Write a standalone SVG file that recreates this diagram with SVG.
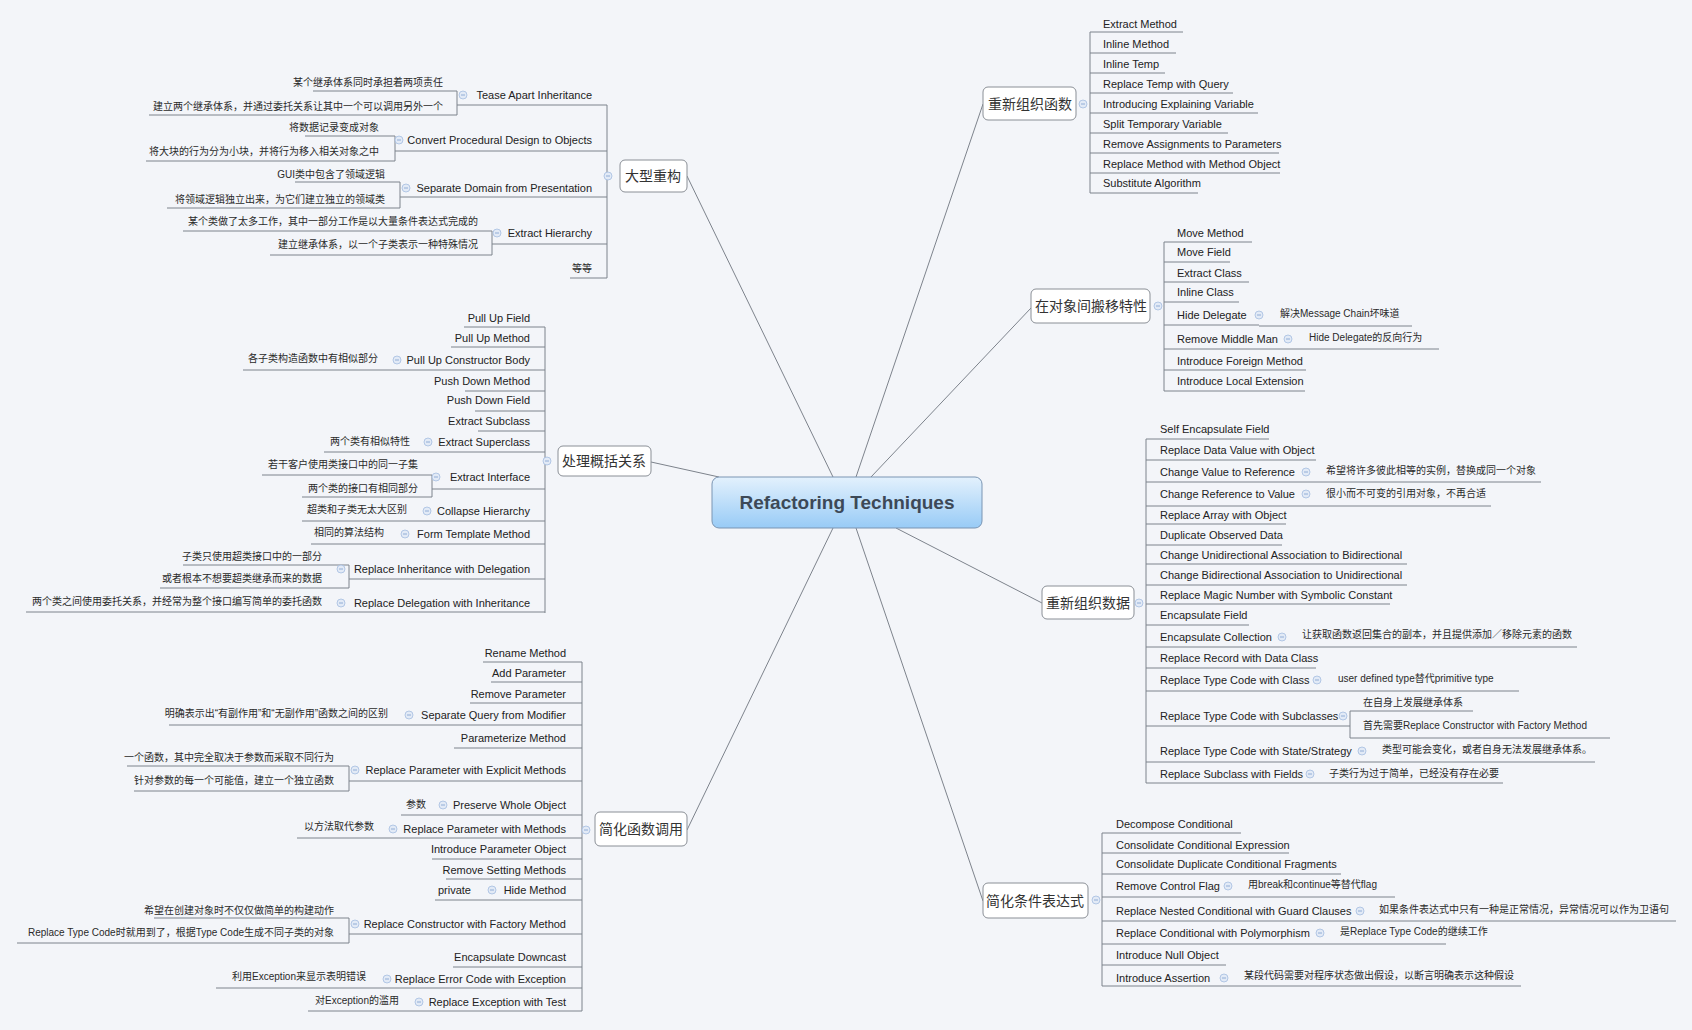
<svg xmlns="http://www.w3.org/2000/svg" width="1692" height="1030" viewBox="0 0 1692 1030">
<style>
text{font-family:"Liberation Sans","Noto Sans CJK SC",sans-serif;fill:#222;font-size:11px}
.e{text-anchor:end}
.s{font-size:10px;fill:#2a2a2a}
.b{font-size:14px;fill:#333;text-anchor:middle}
.n{fill:#fff;stroke:#8a8f96;stroke-width:1}
.l path,.l line{stroke:#7d838c;stroke-width:1;fill:none}
</style>
<defs>
<linearGradient id="g" x1="0" y1="0" x2="0" y2="1"><stop offset="0" stop-color="#e3f1fd"/><stop offset="1" stop-color="#98cbf6"/></linearGradient>
<symbol id="col" overflow="visible"><circle r="4" fill="#e2eaf6" stroke="#a5bde0" stroke-width="0.8"/><line x1="-2" y1="0" x2="2" y2="0" stroke="#7f9fcf" stroke-width="0.8"/></symbol>
</defs>
<rect width="1692" height="1030" fill="#f3f5f9"/>
<g id="connectors" class="l">
<line x1="833" y1="477" x2="687" y2="176"/>
<line x1="719" y1="477" x2="651" y2="462"/>
<line x1="833" y1="528" x2="687" y2="830"/>
<line x1="856" y1="477" x2="983" y2="104"/>
<line x1="871" y1="477" x2="1031" y2="308"/>
<line x1="896" y1="528" x2="1042" y2="603"/>
<line x1="856" y1="528" x2="983" y2="901"/>
<path d="M607 105V278M457 105H607M395 151H607M400 197H607M492 244H607M570 278H607M313 91H457M149 115H457M457 91V115M305 136H395M146 161H395M395 136V161M295 182H400M167 208H400M400 182V208M183 231H492M270 255H492M492 231V255"/>
<path d="M545 327V613M464 327H545M451 347H545M243 370H545M465 391H545M475 411H545M478 431H545M324 452H545M432 489H545M262 475H432M302 497H432M432 475V497M302 521H545M311 544H545M349 579H545M183 565H349M160 588H349M349 565V588M26 612H545"/>
<path d="M582 662V1011M483 662H582M491 682H582M470 703H582M169 725H582M454 748H582M349 781H582M127 766H349M134 791H349M349 766V791M401 815H582M297 838H582M432 859H582M446 879H582M435 900H582M349 934H582M154 918H349M17 943H349M349 918V943M453 967H582M216 988H582M308 1011H582"/>
<path d="M1090 32V193M1090 32H1183M1090 53H1176M1090 73H1165M1090 93H1233M1090 113H1258M1090 133H1228M1090 153H1279M1090 173H1280M1090 193H1198"/>
<path d="M1164 242V391M1164 242H1252M1164 262H1230M1164 282H1249M1164 302H1239M1164 325H1259M1259 326H1412M1164 349H1439M1164 370H1306M1164 391H1305"/>
<path d="M1146 439V783M1146 439H1269M1146 460H1316M1146 482H1541M1146 506H1491M1146 524H1286M1146 545H1282M1146 564H1407M1146 585H1407M1146 604H1390M1146 625H1249M1146 647H1577M1146 668H1316M1146 691H1519M1146 726H1350M1350 711V738M1350 711H1473M1350 738H1610M1146 762H1595M1146 783H1503"/>
<path d="M1102 833V986M1102 833H1241M1102 853H1289M1102 874H1341M1102 897H1395M1102 921H1676M1102 944H1446M1102 965H1226M1102 986H1521"/>
</g>
<g id="root">
<rect x="712" y="477" width="270" height="51" rx="7" fill="url(#g)" stroke="#7a95b3"/>
<text x="847" y="509" style="font-size:19px;font-weight:bold;fill:#3d4957;text-anchor:middle">Refactoring Techniques</text>
</g>
<g id="big">
<rect class="n" x="620" y="160" width="67" height="32" rx="5"/><text class="b" x="653" y="181">大型重构</text>
<use href="#col" x="608" y="176"/><use href="#col" x="463" y="95"/><use href="#col" x="399" y="140"/><use href="#col" x="406" y="188"/><use href="#col" x="497" y="233"/>
<text class="e" x="592" y="99">Tease Apart Inheritance</text>
<text class="e s" x="443" y="86">某个继承体系同时承担着两项责任</text>
<text class="e s" x="443" y="110">建立两个继承体系，并通过委托关系让其中一个可以调用另外一个</text>
<text class="e" x="592" y="144">Convert Procedural Design to Objects</text>
<text class="e s" x="379" y="131">将数据记录变成对象</text>
<text class="e s" x="379" y="155">将大块的行为分为小块，并将行为移入相关对象之中</text>
<text class="e" x="592" y="192">Separate Domain from Presentation</text>
<text class="e s" x="385" y="178">GUI类中包含了领域逻辑</text>
<text class="e s" x="385" y="203">将领域逻辑独立出来，为它们建立独立的领域类</text>
<text class="e" x="592" y="237">Extract Hierarchy</text>
<text class="e s" x="478" y="225">某个类做了太多工作，其中一部分工作是以大量条件表达式完成的</text>
<text class="e s" x="478" y="248">建立继承体系，以一个子类表示一种特殊情况</text>
<text class="e s" x="592" y="272">等等</text>
</g>
<g id="gen">
<rect class="n" x="558" y="446" width="93" height="30" rx="5"/><text class="b" x="604" y="466">处理概括关系</text>
<use href="#col" x="547" y="461"/><use href="#col" x="397" y="360"/><use href="#col" x="428" y="442"/><use href="#col" x="436" y="477"/><use href="#col" x="427" y="511"/><use href="#col" x="405" y="534"/><use href="#col" x="341" y="569"/><use href="#col" x="341" y="603"/>
<text class="e" x="530" y="322">Pull Up Field</text>
<text class="e" x="530" y="342">Pull Up Method</text>
<text class="e" x="530" y="364">Pull Up Constructor Body</text>
<text class="e s" x="378" y="362">各子类构造函数中有相似部分</text>
<text class="e" x="530" y="385">Push Down Method</text>
<text class="e" x="530" y="404">Push Down Field</text>
<text class="e" x="530" y="425">Extract Subclass</text>
<text class="e" x="530" y="446">Extract Superclass</text>
<text class="e s" x="410" y="445">两个类有相似特性</text>
<text class="e" x="530" y="481">Extract Interface</text>
<text class="e s" x="418" y="468">若干客户使用类接口中的同一子集</text>
<text class="e s" x="418" y="492">两个类的接口有相同部分</text>
<text class="e" x="530" y="515">Collapse Hierarchy</text>
<text class="e s" x="407" y="513">超类和子类无太大区别</text>
<text class="e" x="530" y="538">Form Template Method</text>
<text class="e s" x="384" y="536">相同的算法结构</text>
<text class="e" x="530" y="573">Replace Inheritance with Delegation</text>
<text class="e s" x="322" y="560">子类只使用超类接口中的一部分</text>
<text class="e s" x="322" y="582">或者根本不想要超类继承而来的数据</text>
<text class="e" x="530" y="607">Replace Delegation with Inheritance</text>
<text class="e s" x="322" y="605">两个类之间使用委托关系，并经常为整个接口编写简单的委托函数</text>
</g>
<g id="call">
<rect class="n" x="595" y="812" width="92" height="34" rx="5"/><text class="b" x="641" y="834">简化函数调用</text>
<use href="#col" x="586" y="830"/><use href="#col" x="409" y="715"/><use href="#col" x="355" y="770"/><use href="#col" x="443" y="805"/><use href="#col" x="393" y="829"/><use href="#col" x="492" y="890"/><use href="#col" x="355" y="924"/><use href="#col" x="387" y="979"/><use href="#col" x="419" y="1002"/>
<text class="e" x="566" y="657">Rename Method</text>
<text class="e" x="566" y="677">Add Parameter</text>
<text class="e" x="566" y="698">Remove Parameter</text>
<text class="e" x="566" y="719">Separate Query from Modifier</text>
<text class="e s" x="388" y="717">明确表示出“有副作用”和“无副作用”函数之间的区别</text>
<text class="e" x="566" y="742">Parameterize Method</text>
<text class="e" x="566" y="774">Replace Parameter with Explicit Methods</text>
<text class="e s" x="334" y="761">一个函数，其中完全取决于参数而采取不同行为</text>
<text class="e s" x="334" y="784">针对参数的每一个可能值，建立一个独立函数</text>
<text class="e" x="566" y="809">Preserve Whole Object</text>
<text class="e s" x="426" y="808">参数</text>
<text class="e" x="566" y="833">Replace Parameter with Methods</text>
<text class="e s" x="374" y="830">以方法取代参数</text>
<text class="e" x="566" y="853">Introduce Parameter Object</text>
<text class="e" x="566" y="874">Remove Setting Methods</text>
<text class="e" x="566" y="894">Hide Method</text>
<text class="e" x="471" y="894">private</text>
<text class="e" x="566" y="928">Replace Constructor with Factory Method</text>
<text class="e s" x="334" y="914">希望在创建对象时不仅仅做简单的构建动作</text>
<text class="e s" x="334" y="936">Replace Type Code时就用到了，根据Type Code生成不同子类的对象</text>
<text class="e" x="566" y="961">Encapsulate Downcast</text>
<text class="e" x="566" y="983">Replace Error Code with Exception</text>
<text class="e s" x="366" y="980">利用Exception来显示表明错误</text>
<text class="e" x="566" y="1006">Replace Exception with Test</text>
<text class="e s" x="399" y="1004">对Exception的滥用</text>
</g>
<g id="method">
<rect class="n" x="983" y="87" width="93" height="33" rx="5"/><text class="b" x="1030" y="109">重新组织函数</text>
<use href="#col" x="1083" y="104"/>
<text x="1103" y="28">Extract Method</text>
<text x="1103" y="48">Inline Method</text>
<text x="1103" y="68">Inline Temp</text>
<text x="1103" y="88">Replace Temp with Query</text>
<text x="1103" y="108">Introducing Explaining Variable</text>
<text x="1103" y="128">Split Temporary Variable</text>
<text x="1103" y="148">Remove Assignments to Parameters</text>
<text x="1103" y="168">Replace Method with Method Object</text>
<text x="1103" y="187">Substitute Algorithm</text>
</g>
<g id="move">
<rect class="n" x="1031" y="289" width="119" height="34" rx="5"/><text class="b" x="1091" y="311">在对象间搬移特性</text>
<use href="#col" x="1158" y="306"/><use href="#col" x="1259" y="315"/><use href="#col" x="1288" y="339"/>
<text x="1177" y="237">Move Method</text>
<text x="1177" y="256">Move Field</text>
<text x="1177" y="277">Extract Class</text>
<text x="1177" y="296">Inline Class</text>
<text x="1177" y="319">Hide Delegate</text>
<text class="s" x="1280" y="317">解决Message Chain坏味道</text>
<text x="1177" y="343">Remove Middle Man</text>
<text class="s" x="1309" y="341">Hide Delegate的反向行为</text>
<text x="1177" y="365">Introduce Foreign Method</text>
<text x="1177" y="385">Introduce Local Extension</text>
</g>
<g id="data">
<rect class="n" x="1042" y="586" width="92" height="33" rx="5"/><text class="b" x="1088" y="608">重新组织数据</text>
<use href="#col" x="1139" y="603"/><use href="#col" x="1306" y="472"/><use href="#col" x="1306" y="494"/><use href="#col" x="1282" y="637"/><use href="#col" x="1317" y="680"/><use href="#col" x="1343" y="716"/><use href="#col" x="1362" y="751"/><use href="#col" x="1310" y="774"/>
<text x="1160" y="433">Self Encapsulate Field</text>
<text x="1160" y="454">Replace Data Value with Object</text>
<text x="1160" y="476">Change Value to Reference</text>
<text class="s" x="1326" y="474">希望将许多彼此相等的实例，替换成同一个对象</text>
<text x="1160" y="498">Change Reference to Value</text>
<text class="s" x="1326" y="497">很小而不可变的引用对象，不再合适</text>
<text x="1160" y="519">Replace Array with Object</text>
<text x="1160" y="539">Duplicate Observed Data</text>
<text x="1160" y="559">Change Unidirectional Association to Bidirectional</text>
<text x="1160" y="579">Change Bidirectional Association to Unidirectional</text>
<text x="1160" y="599">Replace Magic Number with Symbolic Constant</text>
<text x="1160" y="619">Encapsulate Field</text>
<text x="1160" y="641">Encapsulate Collection</text>
<text class="s" x="1302" y="638">让获取函数返回集合的副本，并且提供添加／移除元素的函数</text>
<text x="1160" y="662">Replace Record with Data Class</text>
<text x="1160" y="684">Replace Type Code with Class</text>
<text class="s" x="1338" y="682">user defined type替代primitive type</text>
<text x="1160" y="720">Replace Type Code with Subclasses</text>
<text class="s" x="1363" y="706">在自身上发展继承体系</text>
<text class="s" x="1363" y="729">首先需要Replace Constructor with Factory Method</text>
<text x="1160" y="755">Replace Type Code with State/Strategy</text>
<text class="s" x="1382" y="753">类型可能会变化，或者自身无法发展继承体系。</text>
<text x="1160" y="778">Replace Subclass with Fields</text>
<text class="s" x="1329" y="777">子类行为过于简单，已经没有存在必要</text>
</g>
<g id="cond">
<rect class="n" x="983" y="883" width="105" height="35" rx="5"/><text class="b" x="1035" y="906">简化条件表达式</text>
<use href="#col" x="1096" y="900"/><use href="#col" x="1228" y="886"/><use href="#col" x="1360" y="911"/><use href="#col" x="1320" y="933"/><use href="#col" x="1224" y="978"/>
<text x="1116" y="828">Decompose Conditional</text>
<text x="1116" y="849">Consolidate Conditional Expression</text>
<text x="1116" y="868">Consolidate Duplicate Conditional Fragments</text>
<text x="1116" y="890">Remove Control Flag</text>
<text class="s" x="1248" y="888">用break和continue等替代flag</text>
<text x="1116" y="915">Replace Nested Conditional with Guard Clauses</text>
<text class="s" x="1379" y="913">如果条件表达式中只有一种是正常情况，异常情况可以作为卫语句</text>
<text x="1116" y="937">Replace Conditional with Polymorphism</text>
<text class="s" x="1340" y="935">是Replace Type Code的继续工作</text>
<text x="1116" y="959">Introduce Null Object</text>
<text x="1116" y="982">Introduce Assertion</text>
<text class="s" x="1244" y="979">某段代码需要对程序状态做出假设，以断言明确表示这种假设</text>
</g>
</svg>
